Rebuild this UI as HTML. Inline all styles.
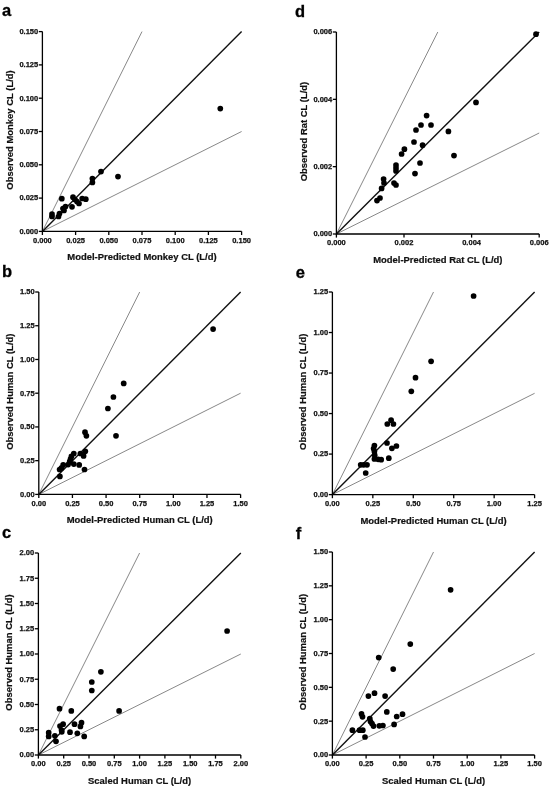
<!DOCTYPE html>
<html><head><meta charset="utf-8"><style>
html,body{margin:0;padding:0;background:#fff;width:550px;height:789px;overflow:hidden}
svg{display:block;will-change:transform}
.t{font-family:"Liberation Sans", sans-serif;font-weight:bold;font-size:7.5px;fill:#111;stroke:#111;stroke-width:0.25px}
.ti{font-family:"Liberation Sans", sans-serif;font-weight:bold;font-size:9.45px;fill:#111;stroke:#111;stroke-width:0.2px}
.lab{font-family:"Liberation Sans", sans-serif;font-weight:bold;font-size:16.5px;fill:#000;stroke:#000;stroke-width:0.3px}
</style></head><body>
<svg width="550" height="789" viewBox="0 0 550 789">
<rect width="550" height="789" fill="#fff"/>
<line x1="42.4" y1="231.4" x2="142.00" y2="31.6" stroke="#7a7a7a" stroke-width="0.9"/>
<line x1="42.4" y1="231.4" x2="241.6" y2="131.50" stroke="#7a7a7a" stroke-width="0.9"/>
<line x1="42.4" y1="231.4" x2="241.6" y2="31.6" stroke="#111" stroke-width="1.4"/>
<path d="M42.4,31.6V231.4H241.6" fill="none" stroke="#000" stroke-width="1.3"/>
<line x1="42.40" y1="231.4" x2="42.40" y2="235.0" stroke="#000" stroke-width="1.3"/>
<text x="42.40" y="242.60" text-anchor="middle" class="t">0.000</text>
<line x1="75.60" y1="231.4" x2="75.60" y2="235.0" stroke="#000" stroke-width="1.3"/>
<text x="75.60" y="242.60" text-anchor="middle" class="t">0.025</text>
<line x1="108.80" y1="231.4" x2="108.80" y2="235.0" stroke="#000" stroke-width="1.3"/>
<text x="108.80" y="242.60" text-anchor="middle" class="t">0.050</text>
<line x1="142.00" y1="231.4" x2="142.00" y2="235.0" stroke="#000" stroke-width="1.3"/>
<text x="142.00" y="242.60" text-anchor="middle" class="t">0.075</text>
<line x1="175.20" y1="231.4" x2="175.20" y2="235.0" stroke="#000" stroke-width="1.3"/>
<text x="175.20" y="242.60" text-anchor="middle" class="t">0.100</text>
<line x1="208.40" y1="231.4" x2="208.40" y2="235.0" stroke="#000" stroke-width="1.3"/>
<text x="208.40" y="242.60" text-anchor="middle" class="t">0.125</text>
<line x1="241.60" y1="231.4" x2="241.60" y2="235.0" stroke="#000" stroke-width="1.3"/>
<text x="241.60" y="242.60" text-anchor="middle" class="t">0.150</text>
<line x1="38.8" y1="231.40" x2="42.4" y2="231.40" stroke="#000" stroke-width="1.3"/>
<text x="38.20" y="233.75" text-anchor="end" class="t">0.000</text>
<line x1="38.8" y1="198.10" x2="42.4" y2="198.10" stroke="#000" stroke-width="1.3"/>
<text x="38.20" y="200.45" text-anchor="end" class="t">0.025</text>
<line x1="38.8" y1="164.80" x2="42.4" y2="164.80" stroke="#000" stroke-width="1.3"/>
<text x="38.20" y="167.15" text-anchor="end" class="t">0.050</text>
<line x1="38.8" y1="131.50" x2="42.4" y2="131.50" stroke="#000" stroke-width="1.3"/>
<text x="38.20" y="133.85" text-anchor="end" class="t">0.075</text>
<line x1="38.8" y1="98.20" x2="42.4" y2="98.20" stroke="#000" stroke-width="1.3"/>
<text x="38.20" y="100.55" text-anchor="end" class="t">0.100</text>
<line x1="38.8" y1="64.90" x2="42.4" y2="64.90" stroke="#000" stroke-width="1.3"/>
<text x="38.20" y="67.25" text-anchor="end" class="t">0.125</text>
<line x1="38.8" y1="31.60" x2="42.4" y2="31.60" stroke="#000" stroke-width="1.3"/>
<text x="38.20" y="33.95" text-anchor="end" class="t">0.150</text>
<circle cx="101" cy="171.6" r="2.85"/>
<circle cx="118" cy="176.6" r="2.85"/>
<circle cx="92.4" cy="178.6" r="2.85"/>
<circle cx="92.4" cy="182.4" r="2.85"/>
<circle cx="220.3" cy="108.6" r="2.85"/>
<circle cx="61.8" cy="198.7" r="2.85"/>
<circle cx="73" cy="197.2" r="2.85"/>
<circle cx="75" cy="199.5" r="2.85"/>
<circle cx="77" cy="201.5" r="2.85"/>
<circle cx="79" cy="203.5" r="2.85"/>
<circle cx="82.2" cy="198.5" r="2.85"/>
<circle cx="85.8" cy="199.2" r="2.85"/>
<circle cx="72" cy="206.8" r="2.85"/>
<circle cx="65.5" cy="206.5" r="2.85"/>
<circle cx="63" cy="208.5" r="2.85"/>
<circle cx="64" cy="210.5" r="2.85"/>
<circle cx="59.5" cy="213.5" r="2.85"/>
<circle cx="58.5" cy="216.5" r="2.85"/>
<circle cx="52" cy="214" r="2.85"/>
<circle cx="52" cy="216.5" r="2.85"/>
<text x="142.00" y="260.40" text-anchor="middle" class="ti">Model-Predicted Monkey CL (L/d)</text>
<text transform="translate(12.90,130.00) rotate(-90)" text-anchor="middle" class="ti">Observed Monkey CL (L/d)</text>
<text x="2.1" y="16.4" class="lab">a</text>
<line x1="38.8" y1="494.4" x2="139.70" y2="292.0" stroke="#7a7a7a" stroke-width="0.9"/>
<line x1="38.8" y1="494.4" x2="240.6" y2="393.20" stroke="#7a7a7a" stroke-width="0.9"/>
<line x1="38.8" y1="494.4" x2="240.6" y2="292.0" stroke="#111" stroke-width="1.4"/>
<path d="M38.8,292.0V494.4H240.6" fill="none" stroke="#000" stroke-width="1.3"/>
<line x1="38.80" y1="494.4" x2="38.80" y2="498.0" stroke="#000" stroke-width="1.3"/>
<text x="38.80" y="505.60" text-anchor="middle" class="t">0.00</text>
<line x1="72.43" y1="494.4" x2="72.43" y2="498.0" stroke="#000" stroke-width="1.3"/>
<text x="72.43" y="505.60" text-anchor="middle" class="t">0.25</text>
<line x1="106.07" y1="494.4" x2="106.07" y2="498.0" stroke="#000" stroke-width="1.3"/>
<text x="106.07" y="505.60" text-anchor="middle" class="t">0.50</text>
<line x1="139.70" y1="494.4" x2="139.70" y2="498.0" stroke="#000" stroke-width="1.3"/>
<text x="139.70" y="505.60" text-anchor="middle" class="t">0.75</text>
<line x1="173.33" y1="494.4" x2="173.33" y2="498.0" stroke="#000" stroke-width="1.3"/>
<text x="173.33" y="505.60" text-anchor="middle" class="t">1.00</text>
<line x1="206.97" y1="494.4" x2="206.97" y2="498.0" stroke="#000" stroke-width="1.3"/>
<text x="206.97" y="505.60" text-anchor="middle" class="t">1.25</text>
<line x1="240.60" y1="494.4" x2="240.60" y2="498.0" stroke="#000" stroke-width="1.3"/>
<text x="240.60" y="505.60" text-anchor="middle" class="t">1.50</text>
<line x1="35.199999999999996" y1="494.40" x2="38.8" y2="494.40" stroke="#000" stroke-width="1.3"/>
<text x="34.60" y="496.75" text-anchor="end" class="t">0.00</text>
<line x1="35.199999999999996" y1="460.67" x2="38.8" y2="460.67" stroke="#000" stroke-width="1.3"/>
<text x="34.60" y="463.02" text-anchor="end" class="t">0.25</text>
<line x1="35.199999999999996" y1="426.93" x2="38.8" y2="426.93" stroke="#000" stroke-width="1.3"/>
<text x="34.60" y="429.28" text-anchor="end" class="t">0.50</text>
<line x1="35.199999999999996" y1="393.20" x2="38.8" y2="393.20" stroke="#000" stroke-width="1.3"/>
<text x="34.60" y="395.55" text-anchor="end" class="t">0.75</text>
<line x1="35.199999999999996" y1="359.47" x2="38.8" y2="359.47" stroke="#000" stroke-width="1.3"/>
<text x="34.60" y="361.82" text-anchor="end" class="t">1.00</text>
<line x1="35.199999999999996" y1="325.73" x2="38.8" y2="325.73" stroke="#000" stroke-width="1.3"/>
<text x="34.60" y="328.08" text-anchor="end" class="t">1.25</text>
<line x1="35.199999999999996" y1="292.00" x2="38.8" y2="292.00" stroke="#000" stroke-width="1.3"/>
<text x="34.60" y="294.35" text-anchor="end" class="t">1.50</text>
<circle cx="213.1" cy="329.1" r="2.85"/>
<circle cx="123.7" cy="383.4" r="2.85"/>
<circle cx="113.4" cy="397" r="2.85"/>
<circle cx="107.9" cy="408.5" r="2.85"/>
<circle cx="85" cy="432.2" r="2.85"/>
<circle cx="86.4" cy="435.8" r="2.85"/>
<circle cx="116" cy="435.8" r="2.85"/>
<circle cx="85.3" cy="451.3" r="2.85"/>
<circle cx="80.4" cy="453.5" r="2.85"/>
<circle cx="83.6" cy="455.9" r="2.85"/>
<circle cx="73.8" cy="453.5" r="2.85"/>
<circle cx="71.4" cy="456.4" r="2.85"/>
<circle cx="70.5" cy="459.2" r="2.85"/>
<circle cx="69.7" cy="461.6" r="2.85"/>
<circle cx="68.1" cy="464.6" r="2.85"/>
<circle cx="73.8" cy="464.1" r="2.85"/>
<circle cx="79.2" cy="464.9" r="2.85"/>
<circle cx="63.2" cy="464.9" r="2.85"/>
<circle cx="61.5" cy="467.9" r="2.85"/>
<circle cx="59.6" cy="469.5" r="2.85"/>
<circle cx="84.5" cy="469.5" r="2.85"/>
<circle cx="59.9" cy="476.4" r="2.85"/>
<text x="139.70" y="523.40" text-anchor="middle" class="ti">Model-Predicted Human CL (L/d)</text>
<text transform="translate(12.60,391.70) rotate(-90)" text-anchor="middle" class="ti">Observed Human CL (L/d)</text>
<text x="2.0" y="277.4" class="lab">b</text>
<line x1="38.4" y1="755.0" x2="139.60" y2="553.0" stroke="#7a7a7a" stroke-width="0.9"/>
<line x1="38.4" y1="755.0" x2="240.8" y2="654.00" stroke="#7a7a7a" stroke-width="0.9"/>
<line x1="38.4" y1="755.0" x2="240.8" y2="553.0" stroke="#111" stroke-width="1.4"/>
<path d="M38.4,553.0V755.0H240.8" fill="none" stroke="#000" stroke-width="1.3"/>
<line x1="38.40" y1="755.0" x2="38.40" y2="758.6" stroke="#000" stroke-width="1.3"/>
<text x="38.40" y="766.20" text-anchor="middle" class="t">0.00</text>
<line x1="63.70" y1="755.0" x2="63.70" y2="758.6" stroke="#000" stroke-width="1.3"/>
<text x="63.70" y="766.20" text-anchor="middle" class="t">0.25</text>
<line x1="89.00" y1="755.0" x2="89.00" y2="758.6" stroke="#000" stroke-width="1.3"/>
<text x="89.00" y="766.20" text-anchor="middle" class="t">0.50</text>
<line x1="114.30" y1="755.0" x2="114.30" y2="758.6" stroke="#000" stroke-width="1.3"/>
<text x="114.30" y="766.20" text-anchor="middle" class="t">0.75</text>
<line x1="139.60" y1="755.0" x2="139.60" y2="758.6" stroke="#000" stroke-width="1.3"/>
<text x="139.60" y="766.20" text-anchor="middle" class="t">1.00</text>
<line x1="164.90" y1="755.0" x2="164.90" y2="758.6" stroke="#000" stroke-width="1.3"/>
<text x="164.90" y="766.20" text-anchor="middle" class="t">1.25</text>
<line x1="190.20" y1="755.0" x2="190.20" y2="758.6" stroke="#000" stroke-width="1.3"/>
<text x="190.20" y="766.20" text-anchor="middle" class="t">1.50</text>
<line x1="215.50" y1="755.0" x2="215.50" y2="758.6" stroke="#000" stroke-width="1.3"/>
<text x="215.50" y="766.20" text-anchor="middle" class="t">1.75</text>
<line x1="240.80" y1="755.0" x2="240.80" y2="758.6" stroke="#000" stroke-width="1.3"/>
<text x="240.80" y="766.20" text-anchor="middle" class="t">2.00</text>
<line x1="34.8" y1="755.00" x2="38.4" y2="755.00" stroke="#000" stroke-width="1.3"/>
<text x="34.20" y="757.35" text-anchor="end" class="t">0.00</text>
<line x1="34.8" y1="729.75" x2="38.4" y2="729.75" stroke="#000" stroke-width="1.3"/>
<text x="34.20" y="732.10" text-anchor="end" class="t">0.25</text>
<line x1="34.8" y1="704.50" x2="38.4" y2="704.50" stroke="#000" stroke-width="1.3"/>
<text x="34.20" y="706.85" text-anchor="end" class="t">0.50</text>
<line x1="34.8" y1="679.25" x2="38.4" y2="679.25" stroke="#000" stroke-width="1.3"/>
<text x="34.20" y="681.60" text-anchor="end" class="t">0.75</text>
<line x1="34.8" y1="654.00" x2="38.4" y2="654.00" stroke="#000" stroke-width="1.3"/>
<text x="34.20" y="656.35" text-anchor="end" class="t">1.00</text>
<line x1="34.8" y1="628.75" x2="38.4" y2="628.75" stroke="#000" stroke-width="1.3"/>
<text x="34.20" y="631.10" text-anchor="end" class="t">1.25</text>
<line x1="34.8" y1="603.50" x2="38.4" y2="603.50" stroke="#000" stroke-width="1.3"/>
<text x="34.20" y="605.85" text-anchor="end" class="t">1.50</text>
<line x1="34.8" y1="578.25" x2="38.4" y2="578.25" stroke="#000" stroke-width="1.3"/>
<text x="34.20" y="580.60" text-anchor="end" class="t">1.75</text>
<line x1="34.8" y1="553.00" x2="38.4" y2="553.00" stroke="#000" stroke-width="1.3"/>
<text x="34.20" y="555.35" text-anchor="end" class="t">2.00</text>
<circle cx="227.1" cy="631" r="2.85"/>
<circle cx="100.9" cy="671.8" r="2.85"/>
<circle cx="91.8" cy="682" r="2.85"/>
<circle cx="91.8" cy="690.5" r="2.85"/>
<circle cx="59.5" cy="708.7" r="2.85"/>
<circle cx="71.3" cy="710.9" r="2.85"/>
<circle cx="119.1" cy="710.9" r="2.85"/>
<circle cx="63.1" cy="724.2" r="2.85"/>
<circle cx="60" cy="726" r="2.85"/>
<circle cx="74.5" cy="724.2" r="2.85"/>
<circle cx="81.5" cy="722.7" r="2.85"/>
<circle cx="80.4" cy="726.4" r="2.85"/>
<circle cx="61.5" cy="730" r="2.85"/>
<circle cx="61.8" cy="731.8" r="2.85"/>
<circle cx="70" cy="732.2" r="2.85"/>
<circle cx="77.3" cy="733.3" r="2.85"/>
<circle cx="48.7" cy="732.7" r="2.85"/>
<circle cx="48.7" cy="736.4" r="2.85"/>
<circle cx="54.9" cy="735.8" r="2.85"/>
<circle cx="56" cy="741.3" r="2.85"/>
<circle cx="84.2" cy="736.4" r="2.85"/>
<text x="139.60" y="784.00" text-anchor="middle" class="ti">Scaled Human CL (L/d)</text>
<text transform="translate(12.20,652.50) rotate(-90)" text-anchor="middle" class="ti">Observed Human CL (L/d)</text>
<text x="1.9" y="538.3" class="lab">c</text>
<line x1="336.4" y1="234.0" x2="437.80" y2="32.0" stroke="#7a7a7a" stroke-width="0.9"/>
<line x1="336.4" y1="234.0" x2="539.2" y2="133.00" stroke="#7a7a7a" stroke-width="0.9"/>
<line x1="336.4" y1="234.0" x2="539.2" y2="32.0" stroke="#111" stroke-width="1.4"/>
<path d="M336.4,32.0V234.0H539.2" fill="none" stroke="#000" stroke-width="1.3"/>
<line x1="336.40" y1="234.0" x2="336.40" y2="237.6" stroke="#000" stroke-width="1.3"/>
<text x="336.40" y="245.20" text-anchor="middle" class="t">0.000</text>
<line x1="404.00" y1="234.0" x2="404.00" y2="237.6" stroke="#000" stroke-width="1.3"/>
<text x="404.00" y="245.20" text-anchor="middle" class="t">0.002</text>
<line x1="471.60" y1="234.0" x2="471.60" y2="237.6" stroke="#000" stroke-width="1.3"/>
<text x="471.60" y="245.20" text-anchor="middle" class="t">0.004</text>
<line x1="539.20" y1="234.0" x2="539.20" y2="237.6" stroke="#000" stroke-width="1.3"/>
<text x="539.20" y="245.20" text-anchor="middle" class="t">0.006</text>
<line x1="332.79999999999995" y1="234.00" x2="336.4" y2="234.00" stroke="#000" stroke-width="1.3"/>
<text x="332.20" y="236.35" text-anchor="end" class="t">0.000</text>
<line x1="332.79999999999995" y1="166.67" x2="336.4" y2="166.67" stroke="#000" stroke-width="1.3"/>
<text x="332.20" y="169.02" text-anchor="end" class="t">0.002</text>
<line x1="332.79999999999995" y1="99.33" x2="336.4" y2="99.33" stroke="#000" stroke-width="1.3"/>
<text x="332.20" y="101.68" text-anchor="end" class="t">0.004</text>
<line x1="332.79999999999995" y1="32.00" x2="336.4" y2="32.00" stroke="#000" stroke-width="1.3"/>
<text x="332.20" y="34.35" text-anchor="end" class="t">0.006</text>
<circle cx="536" cy="34.2" r="2.85"/>
<circle cx="476" cy="102.4" r="2.85"/>
<circle cx="426.6" cy="115.6" r="2.85"/>
<circle cx="421" cy="125" r="2.85"/>
<circle cx="431" cy="125" r="2.85"/>
<circle cx="416" cy="130" r="2.85"/>
<circle cx="448.4" cy="131.4" r="2.85"/>
<circle cx="414" cy="142" r="2.85"/>
<circle cx="422.6" cy="145.2" r="2.85"/>
<circle cx="404.4" cy="149.2" r="2.85"/>
<circle cx="401.6" cy="154" r="2.85"/>
<circle cx="454" cy="155.6" r="2.85"/>
<circle cx="420" cy="163" r="2.85"/>
<circle cx="396" cy="165" r="2.85"/>
<circle cx="396" cy="168" r="2.85"/>
<circle cx="396" cy="171" r="2.85"/>
<circle cx="415" cy="173.6" r="2.85"/>
<circle cx="383.6" cy="179" r="2.85"/>
<circle cx="384" cy="183" r="2.85"/>
<circle cx="394" cy="183" r="2.85"/>
<circle cx="396" cy="185" r="2.85"/>
<circle cx="381.6" cy="188.4" r="2.85"/>
<circle cx="380" cy="198" r="2.85"/>
<circle cx="377" cy="200.6" r="2.85"/>
<text x="437.80" y="263.00" text-anchor="middle" class="ti">Model-Predicted Rat CL (L/d)</text>
<text transform="translate(306.90,131.50) rotate(-90)" text-anchor="middle" class="ti">Observed Rat CL (L/d)</text>
<text x="295" y="16.6" class="lab">d</text>
<line x1="332.4" y1="494.6" x2="433.50" y2="292.0" stroke="#7a7a7a" stroke-width="0.9"/>
<line x1="332.4" y1="494.6" x2="534.6" y2="393.30" stroke="#7a7a7a" stroke-width="0.9"/>
<line x1="332.4" y1="494.6" x2="534.6" y2="292.0" stroke="#111" stroke-width="1.4"/>
<path d="M332.4,292.0V494.6H534.6" fill="none" stroke="#000" stroke-width="1.3"/>
<line x1="332.40" y1="494.6" x2="332.40" y2="498.20000000000005" stroke="#000" stroke-width="1.3"/>
<text x="332.40" y="505.80" text-anchor="middle" class="t">0.00</text>
<line x1="372.84" y1="494.6" x2="372.84" y2="498.20000000000005" stroke="#000" stroke-width="1.3"/>
<text x="372.84" y="505.80" text-anchor="middle" class="t">0.25</text>
<line x1="413.28" y1="494.6" x2="413.28" y2="498.20000000000005" stroke="#000" stroke-width="1.3"/>
<text x="413.28" y="505.80" text-anchor="middle" class="t">0.50</text>
<line x1="453.72" y1="494.6" x2="453.72" y2="498.20000000000005" stroke="#000" stroke-width="1.3"/>
<text x="453.72" y="505.80" text-anchor="middle" class="t">0.75</text>
<line x1="494.16" y1="494.6" x2="494.16" y2="498.20000000000005" stroke="#000" stroke-width="1.3"/>
<text x="494.16" y="505.80" text-anchor="middle" class="t">1.00</text>
<line x1="534.60" y1="494.6" x2="534.60" y2="498.20000000000005" stroke="#000" stroke-width="1.3"/>
<text x="534.60" y="505.80" text-anchor="middle" class="t">1.25</text>
<line x1="328.79999999999995" y1="494.60" x2="332.4" y2="494.60" stroke="#000" stroke-width="1.3"/>
<text x="328.20" y="496.95" text-anchor="end" class="t">0.00</text>
<line x1="328.79999999999995" y1="454.08" x2="332.4" y2="454.08" stroke="#000" stroke-width="1.3"/>
<text x="328.20" y="456.43" text-anchor="end" class="t">0.25</text>
<line x1="328.79999999999995" y1="413.56" x2="332.4" y2="413.56" stroke="#000" stroke-width="1.3"/>
<text x="328.20" y="415.91" text-anchor="end" class="t">0.50</text>
<line x1="328.79999999999995" y1="373.04" x2="332.4" y2="373.04" stroke="#000" stroke-width="1.3"/>
<text x="328.20" y="375.39" text-anchor="end" class="t">0.75</text>
<line x1="328.79999999999995" y1="332.52" x2="332.4" y2="332.52" stroke="#000" stroke-width="1.3"/>
<text x="328.20" y="334.87" text-anchor="end" class="t">1.00</text>
<line x1="328.79999999999995" y1="292.00" x2="332.4" y2="292.00" stroke="#000" stroke-width="1.3"/>
<text x="328.20" y="294.35" text-anchor="end" class="t">1.25</text>
<circle cx="473.6" cy="296" r="2.85"/>
<circle cx="431.1" cy="361.3" r="2.85"/>
<circle cx="415.5" cy="377.7" r="2.85"/>
<circle cx="411.3" cy="391.3" r="2.85"/>
<circle cx="391.1" cy="420.2" r="2.85"/>
<circle cx="387.3" cy="424" r="2.85"/>
<circle cx="393.4" cy="424" r="2.85"/>
<circle cx="387" cy="443" r="2.85"/>
<circle cx="396.4" cy="446" r="2.85"/>
<circle cx="391.9" cy="448.3" r="2.85"/>
<circle cx="374.4" cy="445.6" r="2.85"/>
<circle cx="373.6" cy="448.6" r="2.85"/>
<circle cx="374.4" cy="451.4" r="2.85"/>
<circle cx="374.7" cy="455.2" r="2.85"/>
<circle cx="374.4" cy="459" r="2.85"/>
<circle cx="378.2" cy="459.3" r="2.85"/>
<circle cx="381.2" cy="459.7" r="2.85"/>
<circle cx="388.8" cy="458.2" r="2.85"/>
<circle cx="360.7" cy="464.8" r="2.85"/>
<circle cx="363.7" cy="464.8" r="2.85"/>
<circle cx="367" cy="464.8" r="2.85"/>
<circle cx="365.7" cy="473" r="2.85"/>
<text x="433.50" y="523.60" text-anchor="middle" class="ti">Model-Predicted Human CL (L/d)</text>
<text transform="translate(306.20,391.80) rotate(-90)" text-anchor="middle" class="ti">Observed Human CL (L/d)</text>
<text x="295.8" y="277.9" class="lab">e</text>
<line x1="332.4" y1="755.0" x2="433.50" y2="552.0" stroke="#7a7a7a" stroke-width="0.9"/>
<line x1="332.4" y1="755.0" x2="534.6" y2="653.50" stroke="#7a7a7a" stroke-width="0.9"/>
<line x1="332.4" y1="755.0" x2="534.6" y2="552.0" stroke="#111" stroke-width="1.4"/>
<path d="M332.4,552.0V755.0H534.6" fill="none" stroke="#000" stroke-width="1.3"/>
<line x1="332.40" y1="755.0" x2="332.40" y2="758.6" stroke="#000" stroke-width="1.3"/>
<text x="332.40" y="766.20" text-anchor="middle" class="t">0.00</text>
<line x1="366.10" y1="755.0" x2="366.10" y2="758.6" stroke="#000" stroke-width="1.3"/>
<text x="366.10" y="766.20" text-anchor="middle" class="t">0.25</text>
<line x1="399.80" y1="755.0" x2="399.80" y2="758.6" stroke="#000" stroke-width="1.3"/>
<text x="399.80" y="766.20" text-anchor="middle" class="t">0.50</text>
<line x1="433.50" y1="755.0" x2="433.50" y2="758.6" stroke="#000" stroke-width="1.3"/>
<text x="433.50" y="766.20" text-anchor="middle" class="t">0.75</text>
<line x1="467.20" y1="755.0" x2="467.20" y2="758.6" stroke="#000" stroke-width="1.3"/>
<text x="467.20" y="766.20" text-anchor="middle" class="t">1.00</text>
<line x1="500.90" y1="755.0" x2="500.90" y2="758.6" stroke="#000" stroke-width="1.3"/>
<text x="500.90" y="766.20" text-anchor="middle" class="t">1.25</text>
<line x1="534.60" y1="755.0" x2="534.60" y2="758.6" stroke="#000" stroke-width="1.3"/>
<text x="534.60" y="766.20" text-anchor="middle" class="t">1.50</text>
<line x1="328.79999999999995" y1="755.00" x2="332.4" y2="755.00" stroke="#000" stroke-width="1.3"/>
<text x="328.20" y="757.35" text-anchor="end" class="t">0.00</text>
<line x1="328.79999999999995" y1="721.17" x2="332.4" y2="721.17" stroke="#000" stroke-width="1.3"/>
<text x="328.20" y="723.52" text-anchor="end" class="t">0.25</text>
<line x1="328.79999999999995" y1="687.33" x2="332.4" y2="687.33" stroke="#000" stroke-width="1.3"/>
<text x="328.20" y="689.68" text-anchor="end" class="t">0.50</text>
<line x1="328.79999999999995" y1="653.50" x2="332.4" y2="653.50" stroke="#000" stroke-width="1.3"/>
<text x="328.20" y="655.85" text-anchor="end" class="t">0.75</text>
<line x1="328.79999999999995" y1="619.67" x2="332.4" y2="619.67" stroke="#000" stroke-width="1.3"/>
<text x="328.20" y="622.02" text-anchor="end" class="t">1.00</text>
<line x1="328.79999999999995" y1="585.83" x2="332.4" y2="585.83" stroke="#000" stroke-width="1.3"/>
<text x="328.20" y="588.18" text-anchor="end" class="t">1.25</text>
<line x1="328.79999999999995" y1="552.00" x2="332.4" y2="552.00" stroke="#000" stroke-width="1.3"/>
<text x="328.20" y="554.35" text-anchor="end" class="t">1.50</text>
<circle cx="450.6" cy="589.8" r="2.85"/>
<circle cx="410.3" cy="644.1" r="2.85"/>
<circle cx="378.7" cy="657.6" r="2.85"/>
<circle cx="393.2" cy="669.1" r="2.85"/>
<circle cx="374.5" cy="693.2" r="2.85"/>
<circle cx="368.4" cy="696.1" r="2.85"/>
<circle cx="385.1" cy="696.1" r="2.85"/>
<circle cx="386.8" cy="711.9" r="2.85"/>
<circle cx="402.5" cy="714.2" r="2.85"/>
<circle cx="396.7" cy="716.5" r="2.85"/>
<circle cx="361.5" cy="713.9" r="2.85"/>
<circle cx="362.5" cy="716.8" r="2.85"/>
<circle cx="369.8" cy="718.5" r="2.85"/>
<circle cx="370.5" cy="721.5" r="2.85"/>
<circle cx="372" cy="723.6" r="2.85"/>
<circle cx="373.5" cy="726.1" r="2.85"/>
<circle cx="379.3" cy="725.8" r="2.85"/>
<circle cx="382.9" cy="725.5" r="2.85"/>
<circle cx="394.1" cy="724.4" r="2.85"/>
<circle cx="352.4" cy="730.2" r="2.85"/>
<circle cx="359.6" cy="730.2" r="2.85"/>
<circle cx="362.8" cy="730.2" r="2.85"/>
<circle cx="365" cy="737" r="2.85"/>
<text x="433.50" y="784.00" text-anchor="middle" class="ti">Scaled Human CL (L/d)</text>
<text transform="translate(306.20,652.00) rotate(-90)" text-anchor="middle" class="ti">Observed Human CL (L/d)</text>
<text x="295.8" y="538.6" class="lab">f</text>
</svg>
</body></html>
